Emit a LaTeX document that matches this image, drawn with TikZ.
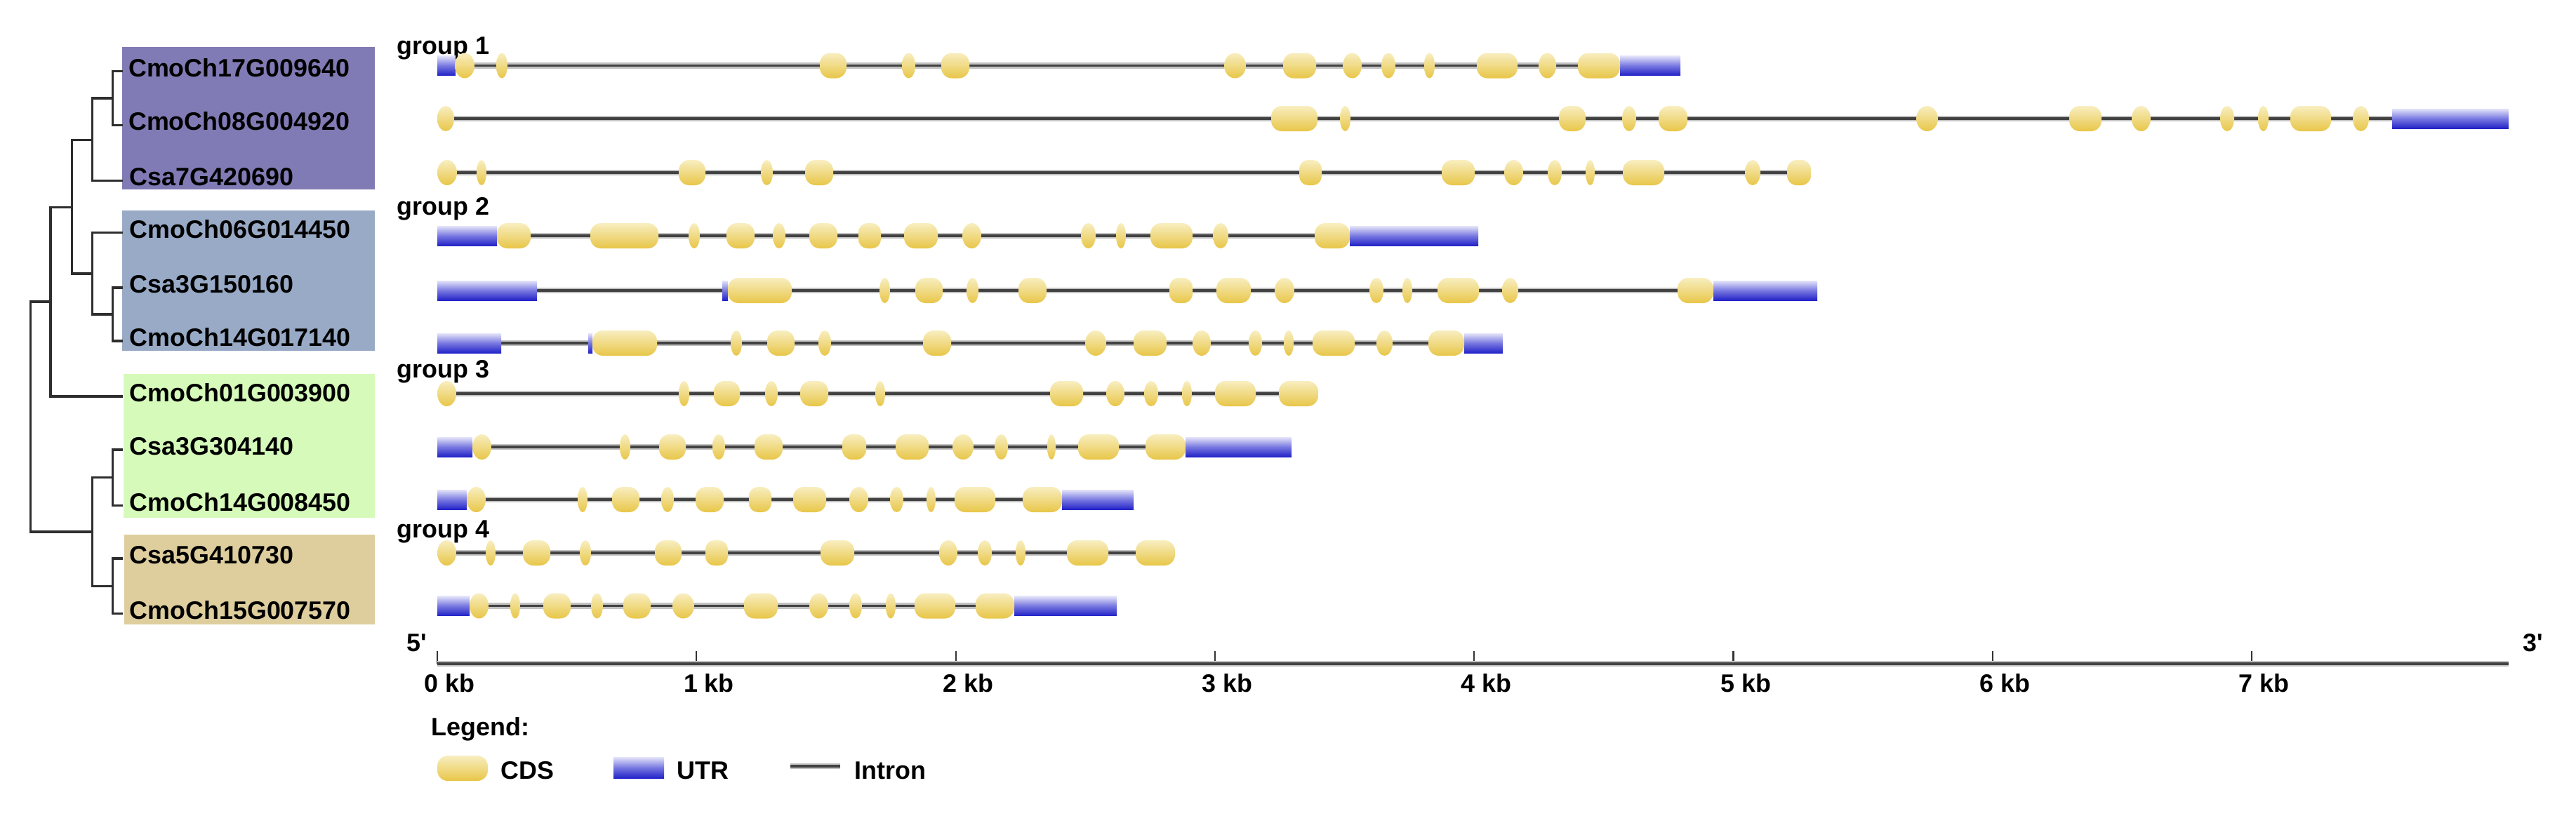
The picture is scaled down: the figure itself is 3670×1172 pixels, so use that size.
\documentclass[tikz,border=0pt]{standalone}
\usepackage{fontspec}
\setmainfont{Liberation Sans}
\definecolor{gA}{RGB}{128,123,180}
\definecolor{gB}{RGB}{152,170,198}
\definecolor{gC}{RGB}{214,250,186}
\definecolor{gD}{RGB}{222,206,158}
\definecolor{cdsT}{RGB}{248,238,192}
\definecolor{cdsB}{RGB}{232,198,72}
\definecolor{utrT}{RGB}{228,228,250}
\definecolor{utrM}{RGB}{120,120,225}
\definecolor{utrB}{RGB}{35,35,200}
\newcommand\cds[3]{%
  \pgfmathsetmacro\exw{#3-#2}%
  \pgfmathsetmacro\exc{(#2+#3)/2}%
  \ifdim\exw pt<32pt
    \pgfmathsetmacro\exrx{\exw/200}%
    \shade[cdsfill] (\exc,#1) ellipse [x radius=\exrx cm, y radius=0.18cm];%
  \else
    \pgfmathsetmacro\exr{min(0.4*\exw,15)/100}%
    \shade[cdsfill,rounded corners=\exr cm] (#2,#1-18) rectangle (#3,#1+18);%
  \fi}
\newcommand\utr[3]{\shade[utrfill] (#2,#1-14) rectangle (#3,#1+14);}
\newcommand\intr[3]{\draw[halo] (#2,#1) -- (#3,#1); \draw[core] (#2,#1) -- (#3,#1);}
\begin{document}
\begin{tikzpicture}[x=0.01cm,y=-0.01cm,
  lbl/.style={font=\fontsize{10.2}{12}\selectfont\bfseries, inner sep=0pt, anchor=base west},
  branch/.style={line width=0.9pt, draw=black!82},
  cdsfill/.style={top color=cdsT, bottom color=cdsB},
  utrfill/.style={top color=utrT, bottom color=utrB, middle color=utrM},
  halo/.style={line width=2.3pt, draw=black!24},
  core/.style={line width=1pt, draw=black!74},
  tickmark/.style={line width=0.6pt, draw=black!80}]
\useasboundingbox (0,0) rectangle (3670,1172);

% group boxes
\fill[gA] (174,67) rectangle (534,270);
\fill[gB] (174,300) rectangle (534,500);
\fill[gC] (176,533) rectangle (534,738);
\fill[gD] (177,762) rectangle (534,890);

% leaf labels
\node[lbl] (t1) at (182.5,109.3) {CmoCh17G009640};
\node[lbl] (t2) at (182.5,185.9) {CmoCh08G004920};
\node[lbl] (t3) at (184,264.9) {Csa7G420690};
\node[lbl] (t4) at (184,339.3) {CmoCh06G014450};
\node[lbl] (t5) at (184,417.6) {Csa3G150160};
\node[lbl] (t6) at (184,493.6) {CmoCh14G017140};
\node[lbl] (t7) at (184,572.6) {CmoCh01G003900};
\node[lbl] (t8) at (184,648.6) {Csa3G304140};
\node[lbl] (t9) at (184,728.1) {CmoCh14G008450};
\node[lbl] (t10) at (184,803.6) {Csa5G410730};
\node[lbl] (t11) at (184,882.1) {CmoCh15G007570};

% tree
\coordinate (L1) at (175,101.7);
\coordinate (L2) at (175,178.3);
\coordinate (L3) at (175,257.3);
\coordinate (L4) at (175,331.7);
\coordinate (L5) at (175,410);
\coordinate (L6) at (175,486);
\coordinate (L7) at (175,565);
\coordinate (L8) at (175,641);
\coordinate (L9) at (175,720.5);
\coordinate (L10) at (175,796);
\coordinate (L11) at (175,874.5);
\coordinate (A) at (160.7,140);
\coordinate (B) at (131.7,199.3);
\coordinate (G) at (160.7,448);
\coordinate (H) at (131.7,390);
\coordinate (D) at (102.7,295.5);
\coordinate (E) at (72,430);
\coordinate (I) at (160.7,680.7);
\coordinate (J) at (160.7,835.2);
\coordinate (K) at (131.7,758);
\coordinate (R) at (43.3,594);
\draw[branch] (L1) -| (A) |- (L2);
\draw[branch] (A) -| (B) |- (L3);
\draw[branch] (L5) -| (G) |- (L6);
\draw[branch] (L4) -| (H) |- (G);
\draw[branch] (B) -| (D) |- (H);
\draw[branch] (D) -| (E) |- (L7);
\draw[branch] (L8) -| (I) |- (L9);
\draw[branch] (L10) -| (J) |- (L11);
\draw[branch] (I) -| (K) |- (J);
\draw[branch] (E) -| (R) |- (K);

% group titles
\node[lbl] (g1) at (565,77) {group 1};
\node[lbl] (g2) at (565,306) {group 2};
\node[lbl] (g3) at (565,538) {group 3};
\node[lbl] (g4) at (565,766) {group 4};

% row 1
\intr{93.5}{623}{2394}
\utr{93.5}{623}{649}\utr{93.5}{2308}{2394}
\foreach \a/\b in {648/676,707/723,1168/1206,1285/1304,1341/1381,1744/1775,1828/1875,1913/1940,1968/1988,2029/2044,2104/2162,2192/2217,2248/2308}{\cds{93.5}{\a}{\b}}
% row 2
\intr{169}{623}{3574}
\utr{169}{3408}{3574}
\foreach \a/\b in {623/647,1811/1877,1909/1924,2221/2259,2311/2331,2363/2404,2730/2761,2948/2994,3037/3064,3163/3183,3217/3232,3263/3321,3352/3375}{\cds{169}{\a}{\b}}
% row 3
\intr{246}{623}{2580}
\foreach \a/\b in {623/651,679/693,967/1005,1084/1101,1147/1187,1851/1883,2054/2101,2143/2170,2205/2225,2259/2272,2312/2371,2486/2508,2546/2580}{\cds{246}{\a}{\b}}
% row 4
\intr{336}{623}{2106}
\utr{336}{623}{708}\utr{336}{1923}{2106}
\foreach \a/\b in {708/756,841/938,981/997,1035/1075,1101/1119,1153/1193,1223/1255,1288/1336,1371/1398,1540/1561,1590/1604,1639/1699,1728/1750,1873/1923}{\cds{336}{\a}{\b}}
% row 5
\intr{414}{623}{2589}
\utr{414}{623}{765}\utr{414}{1029}{1037}\utr{414}{2441}{2589}
\foreach \a/\b in {1037/1128,1253/1268,1304/1343,1377/1394,1451/1491,1666/1699,1733/1782,1816/1844,1951/1971,1998/2012,2048/2107,2140/2163,2390/2441}{\cds{414}{\a}{\b}}
% row 6
\intr{489}{623}{2141}
\utr{489}{623}{714}\utr{489}{838}{844}\utr{489}{2086}{2141}
\foreach \a/\b in {844/936,1041/1057,1093/1132,1166/1184,1315/1355,1546/1576,1615/1662,1699/1725,1779/1798,1829/1843,1870/1930,1961/1984,2035/2086}{\cds{489}{\a}{\b}}
% row 7
\intr{561}{623}{1878}
\foreach \a/\b in {623/650,967/982,1017/1054,1090/1108,1140/1180,1247/1261,1496/1543,1576/1602,1630/1650,1684/1698,1731/1789,1822/1878}{\cds{561}{\a}{\b}}
% row 8
\intr{637}{623}{1840}
\utr{637}{623}{673}\utr{637}{1689}{1840}
\foreach \a/\b in {673/700,883/898,939/977,1015/1033,1075/1115,1200/1234,1276/1323,1357/1387,1417/1436,1492/1504,1536/1594,1632/1689}{\cds{637}{\a}{\b}}
% row 9
\intr{712}{623}{1615}
\utr{712}{623}{665}\utr{712}{1513}{1615}
\foreach \a/\b in {665/692,823/837,872/911,942/960,991/1031,1067/1099,1130/1177,1210/1237,1268/1287,1320/1333,1360/1418,1457/1513}{\cds{712}{\a}{\b}}
% row 10
\intr{788}{623}{1674}
\foreach \a/\b in {623/650,692/706,745/784,826/842,933/971,1005/1037,1169/1217,1338/1364,1393/1413,1447/1461,1520/1579,1618/1674}{\cds{788}{\a}{\b}}
% row 11
\intr{863.5}{623}{1591}
\utr{863.5}{623}{669}\utr{863.5}{1445}{1591}
\foreach \a/\b in {669/696,727/741,774/813,842/859,888/927,958/989,1060/1108,1153/1180,1210/1228,1262/1276,1303/1361,1390/1445}{\cds{863.5}{\a}{\b}}

% axis
\foreach \k in {0,...,7}{
  \draw[tickmark] ({623+369.3*\k},928) -- ({623+369.3*\k},946);
  \node[lbl] (k\k) at ({604+369.3*\k},986) {\k\ kb};
}
\intr{946}{623}{3574}
\node[lbl] (p5) at (579,928) {5\textquotesingle};
\node[lbl] (p3) at (3594,928) {3\textquotesingle};

% legend
\node[lbl] (leg) at (614,1048) {Legend:};
\shade[cdsfill, rounded corners=0.15cm] (623,1077) rectangle (695,1113);
\node[lbl] (lc) at (713,1110) {CDS};
\shade[utrfill] (874,1079) rectangle (946,1109);
\node[lbl] (lu) at (964,1110) {UTR};
\intr{1092}{1126}{1197}
\node[lbl] (li) at (1217,1110) {Intron};
\end{tikzpicture}
\end{document}
